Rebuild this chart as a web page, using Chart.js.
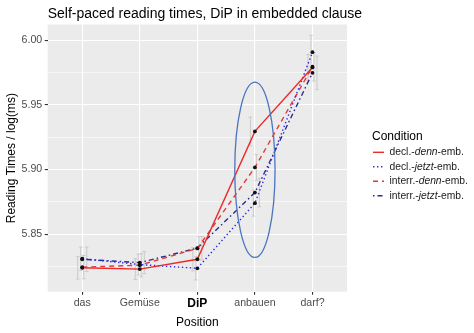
<!DOCTYPE html>
<html>
<head>
<meta charset="utf-8">
<script src="https://cdn.jsdelivr.net/npm/chart.js@4/dist/chart.umd.min.js"></script>
<style>
html, body { margin: 0; padding: 0; background: #fff; }
#wrap { width: 474px; height: 333px; }
</style>
</head>
<body>
<div id="wrap"><canvas id="chart" width="474" height="333"></canvas></div>
<script>
// data
var positions = ["das", "Gemüse", "DiP", "anbauen", "darf?"];
var yTicks = [5.85, 5.90, 5.95, 6.00];

var declDenn = [5.824, 5.823, 5.8306, 5.9295, 5.979];
var declJetzt = [5.831, 5.8265, 5.8236, 5.874, 5.9908];
var interrDenn = [5.8245, 5.826, 5.839, 5.9016, 5.9795];
var interrJetzt = [5.8306, 5.828, 5.8392, 5.8822, 5.9748];

var declDennErr = [0.0087, 0.008, 0.009, 0.011, 0.010];
var declJetztErr = [0.009, 0.008, 0.009, 0.010, 0.013];
var interrDennErr = [0.009, 0.009, 0.009, 0.010, 0.011];
var interrJetztErr = [0.0095, 0.0085, 0.009, 0.011, 0.013];

var FONT = "'Liberation Sans', Arial, Helvetica, sans-serif";

var conditions = [
	{ parts: [["decl.-", false], ["denn", true], ["-emb.", false]], values: declDenn, err: declDennErr, color: "#ec2a2a", dash: [], shift: -4.5 },
	{ parts: [["decl.-", false], ["jetzt", true], ["-emb.", false]], values: declJetzt, err: declJetztErr, color: "#2a2ae6", dash: [1.4, 2.6], shift: -1.5 },
	{ parts: [["interr.-", false], ["denn", true], ["-emb.", false]], values: interrDenn, err: interrDennErr, color: "#e23a3a", dash: [5, 4], shift: 1.5 },
	{ parts: [["interr.-", false], ["jetzt", true], ["-emb.", false]], values: interrJetzt, err: interrJetztErr, color: "#2a2a8c", dash: [1.5, 3, 5, 3], shift: 4.5 }
];

function toPoints(arr) {
	return arr.map(function(v, i) { return { x: i, y: v }; });
}

var datasets = conditions.map(function(c) {
	return {
		label: c.parts.map(function(p) { return p[0]; }).join(""),
		data: toPoints(c.values),
		borderColor: c.color,
		borderDash: c.dash,
		borderWidth: 1.4,
		pointRadius: 1.9,
		pointBackgroundColor: "#111",
		pointBorderWidth: 0,
		fill: false,
		tension: 0
	};
});

var ggPlugin = {
	id: "gg",
	beforeDraw: function(chart) {
		var a = chart.chartArea, ctx = chart.ctx;
		ctx.save();
		ctx.fillStyle = "#ebebeb";
		ctx.fillRect(a.left, a.top, a.right - a.left, a.bottom - a.top);
		ctx.restore();
	},
	beforeDatasetsDraw: function(chart) {
		// error bars, dodged a little
		var ctx = chart.ctx, xs = chart.scales.x, ys = chart.scales.y;
		ctx.save();
		ctx.strokeStyle = "#cacaca";
		ctx.lineWidth = 1;
		conditions.forEach(function(c) {
			c.values.forEach(function(v, i) {
				var x = xs.getPixelForValue(i) + c.shift;
				var y1 = ys.getPixelForValue(v - c.err[i]);
				var y2 = ys.getPixelForValue(v + c.err[i]);
				ctx.beginPath();
				ctx.moveTo(x, y1); ctx.lineTo(x, y2);
				ctx.moveTo(x - 1.8, y1); ctx.lineTo(x + 1.8, y1);
				ctx.moveTo(x - 1.8, y2); ctx.lineTo(x + 1.8, y2);
				ctx.stroke();
			});
		});
		ctx.restore();
	},
	afterDatasetsDraw: function(chart) {
		// ellipse around anbauen
		var ctx = chart.ctx, xs = chart.scales.x, ys = chart.scales.y;
		var cx = xs.getPixelForValue(3);
		var cy = ys.getPixelForValue(5.8998);
		var rx = xs.getPixelForValue(3.35) - cx;
		var ry = ys.getPixelForValue(5.832) - cy;
		ctx.save();
		ctx.strokeStyle = "#4a74c0";
		ctx.lineWidth = 1.3;
		ctx.beginPath();
		ctx.ellipse(cx, cy, rx, ry, 0, 0, Math.PI * 2);
		ctx.stroke();
		ctx.restore();
	},
	afterDraw: function(chart) {
		var ctx = chart.ctx;
		ctx.save();
		ctx.fillStyle = "#000";
		ctx.textBaseline = "alphabetic";
		ctx.font = "14px " + FONT;
		ctx.fillText("Self-paced reading times, DiP in embedded clause", 47.7, 18);

		ctx.font = "12px " + FONT;
		ctx.textBaseline = "middle";
		ctx.fillText("Condition", 372, 137);

		conditions.forEach(function(c, k) {
			var y = 152.3 + k * 14.5;
			ctx.strokeStyle = c.color;
			ctx.lineWidth = 1.4;
			ctx.setLineDash(c.dash);
			ctx.beginPath();
			ctx.moveTo(373, y); ctx.lineTo(384, y);
			ctx.stroke();
			ctx.setLineDash([]);
			var x = 389.5;
			ctx.fillStyle = "#1a1a1a";
			c.parts.forEach(function(p) {
				ctx.font = (p[1] ? "italic " : "") + "10.3px " + FONT;
				ctx.fillText(p[0], x, y);
				x += ctx.measureText(p[0]).width;
			});
		});
		ctx.restore();
	}
};

var ctx = document.getElementById("chart");

var chart = new Chart(ctx, {
	type: "line",
	data: { datasets: datasets },
	options: {
		responsive: false,
		animation: false,
		events: [],
		layout: { padding: { left: 0, right: 127, top: 24.5, bottom: 0 } },
		plugins: {
			legend: { display: false },
			title: { display: false },
			tooltip: { enabled: false }
		},
		scales: {
			x: {
				type: "linear",
				min: -0.6,
				max: 4.6,
				afterBuildTicks: function(s) {
					s.ticks = positions.map(function(p, i) { return { value: i }; });
				},
				afterFit: function(s) { s.height = 41.3; },
				border: { display: false },
				grid: { color: "#ffffff", lineWidth: 1.1, tickLength: 3, tickColor: "#333" },
				ticks: {
					maxRotation: 0,
					autoSkip: false,
					padding: 2,
					callback: function(v) { return positions[v]; },
					color: function(c) { return c.tick && c.tick.value === 2 ? "#000" : "#4d4d4d"; },
					font: function(c) {
						return c.tick && c.tick.value === 2
							? { family: FONT, size: 12, weight: "bold" }
							: { family: FONT, size: 10.6 };
					}
				},
				title: {
					display: true,
					text: "Position",
					color: "#000",
					font: { family: FONT, size: 12 },
					padding: { top: 0, bottom: 3 }
				}
			},
			y: {
				min: 5.8055,
				max: 6.0122,
				afterBuildTicks: function(s) {
					var t = [];
					for (var i = 0; i < 8; i++) t.push({ value: 5.825 + i * 0.025 });
					s.ticks = t;
				},
				afterFit: function(s) { s.width = 47.7; },
				border: { display: false },
				grid: {
					color: "#ffffff",
					lineWidth: function(c) { return isMajor(c.tick) ? 1.1 : 0.55; },
					tickLength: 3,
					tickColor: function(c) { return isMajor(c.tick) ? "#333" : "rgba(0,0,0,0)"; }
				},
				ticks: {
					padding: 2.5,
					color: "#4d4d4d",
					font: { family: FONT, size: 10.6 },
					callback: function(v) {
						return isMajor({ value: v }) ? v.toFixed(2) : "";
					}
				},
				title: {
					display: true,
					text: "Reading Times / log(ms)",
					color: "#000",
					font: { family: FONT, size: 12 },
					padding: { top: 4, bottom: 0 }
				}
			}
		}
	},
	plugins: [ggPlugin]
});

function isMajor(tick) {
	if (!tick) return false;
	return Math.round(tick.value * 1000) % 50 === 0;
}
</script>
</body>
</html>
